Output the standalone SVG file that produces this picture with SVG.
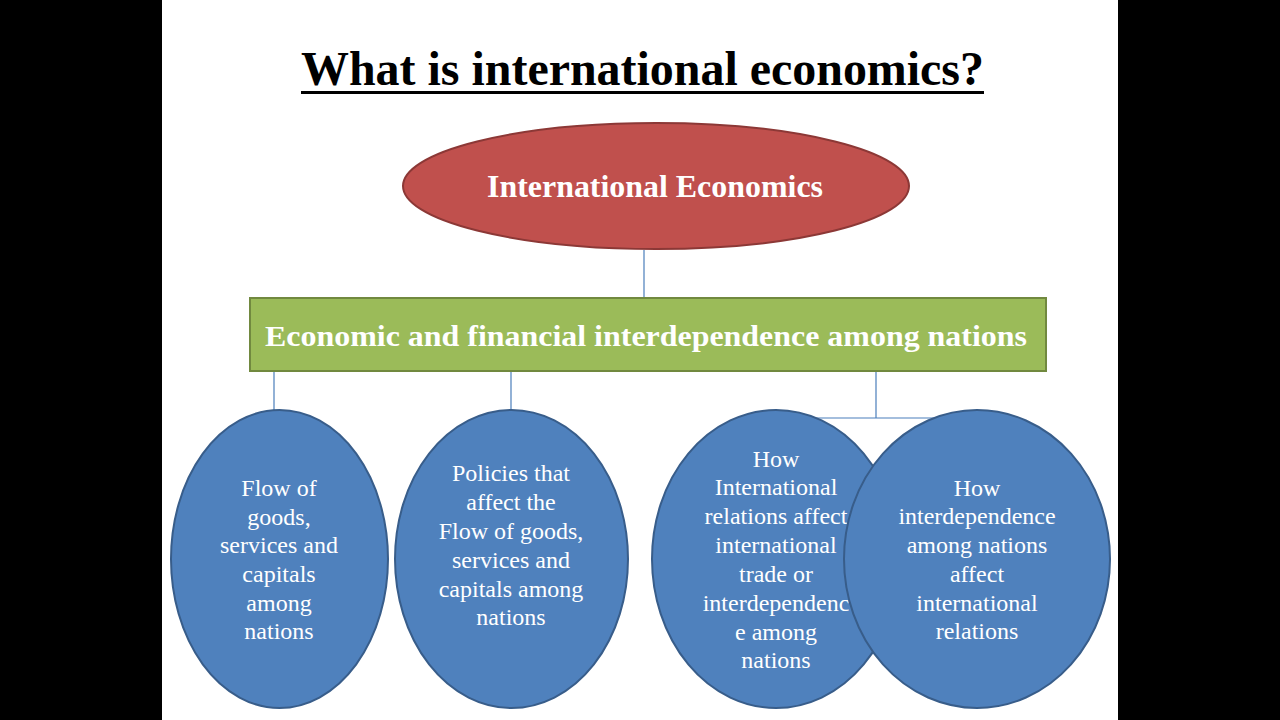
<svg xmlns="http://www.w3.org/2000/svg" width="1280" height="720" viewBox="0 0 1280 720">
<style>
.bt{font-family:"Liberation Serif","Times New Roman",serif;fill:#fff;text-anchor:middle}
.bold{font-weight:bold}
.ov{fill:#4F81BD;stroke:#385D8A;stroke-width:2}
.ct{font-size:24px}
.conn{stroke:#4A7EBB;stroke-width:1.2;fill:none}
</style>
<rect x="0" y="0" width="1280" height="720" fill="#000"/>
<rect x="162" y="0" width="956" height="720" fill="#fff"/>
<g id="title">
<text x="642.5" y="85" font-family="Liberation Serif, Times New Roman, serif" font-weight="bold" font-size="48" text-anchor="middle" fill="#000" textLength="683" lengthAdjust="spacingAndGlyphs">What is international economics?</text>
<rect x="301" y="91" width="683" height="3" fill="#000"/>
</g>
<g id="connectors">
<line class="conn" x1="644" y1="250" x2="644" y2="298"/>
<line class="conn" x1="274" y1="371" x2="274" y2="412"/>
<line class="conn" x1="511" y1="371" x2="511" y2="412"/>
<polyline class="conn" points="876,371 876,418"/>
<line class="conn" x1="776" y1="418" x2="977" y2="418"/>
</g>
<g id="node-root">
<ellipse cx="656" cy="186" rx="253" ry="63" fill="#C0504D" stroke="#8C3836" stroke-width="2"/>
<text class="bt bold" x="655" y="197" font-size="31" textLength="336" lengthAdjust="spacingAndGlyphs">International Economics</text>
</g>
<g id="node-interdependence">
<rect x="250" y="298" width="796" height="73" fill="#9BBB59" stroke="#71893F" stroke-width="2"/>
<text class="bt bold" x="646" y="346" font-size="30" textLength="762" lengthAdjust="spacingAndGlyphs">Economic and financial interdependence among nations</text>
</g>
<g id="node-flow">
<ellipse class="ov" cx="279.5" cy="559" rx="108.5" ry="149"/>
<text class="bt ct" x="279" y="496">Flow of</text>
<text class="bt ct" x="279" y="525">goods,</text>
<text class="bt ct" x="279" y="553">services and</text>
<text class="bt ct" x="279" y="582">capitals</text>
<text class="bt ct" x="279" y="611">among</text>
<text class="bt ct" x="279" y="639">nations</text>
</g>
<g id="node-policies">
<ellipse class="ov" cx="511.5" cy="559" rx="116.5" ry="149"/>
<text class="bt ct" x="511" y="481">Policies that</text>
<text class="bt ct" x="511" y="510">affect the</text>
<text class="bt ct" x="511" y="539">Flow of goods,</text>
<text class="bt ct" x="511" y="568">services and</text>
<text class="bt ct" x="511" y="597">capitals among</text>
<text class="bt ct" x="511" y="625">nations</text>
</g>
<g id="node-relations">
<ellipse class="ov" cx="776" cy="559" rx="124" ry="149"/>
<text class="bt ct" x="776" y="467">How</text>
<text class="bt ct" x="776" y="495">International</text>
<text class="bt ct" x="776" y="524">relations affect</text>
<text class="bt ct" x="776" y="553">international</text>
<text class="bt ct" x="776" y="582">trade or</text>
<text class="bt ct" x="776" y="611">interdependenc</text>
<text class="bt ct" x="776" y="640">e among</text>
<text class="bt ct" x="776" y="668">nations</text>
</g>
<g id="node-interdep-relations">
<ellipse class="ov" cx="977" cy="559" rx="133" ry="149"/>
<text class="bt ct" x="977" y="496">How</text>
<text class="bt ct" x="977" y="524">interdependence</text>
<text class="bt ct" x="977" y="553">among nations</text>
<text class="bt ct" x="977" y="582">affect</text>
<text class="bt ct" x="977" y="611">international</text>
<text class="bt ct" x="977" y="639">relations</text>
</g>
</svg>
